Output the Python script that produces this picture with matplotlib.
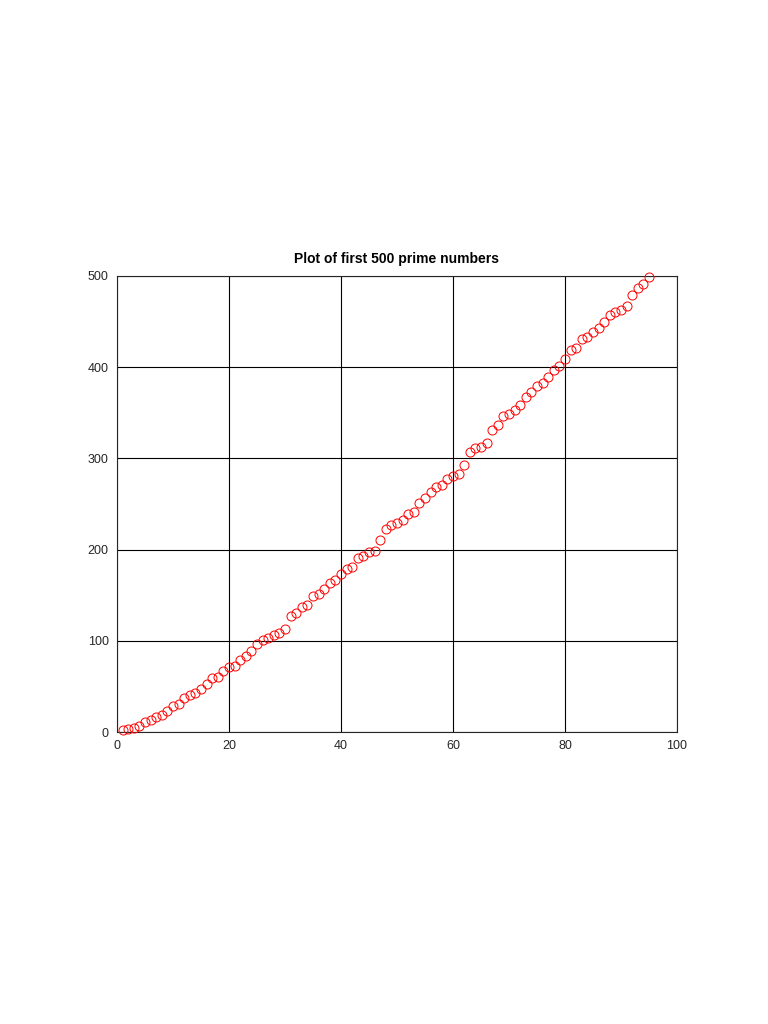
import matplotlib
matplotlib.use("Agg")
import matplotlib.pyplot as plt

primes = [2, 3, 5, 7, 11, 13, 17, 19, 23, 29, 31, 37, 41, 43, 47, 53, 59, 61, 67, 71,
          73, 79, 83, 89, 97, 101, 103, 107, 109, 113, 127, 131, 137, 139, 149, 151,
          157, 163, 167, 173, 179, 181, 191, 193, 197, 199, 211, 223, 227, 229, 233,
          239, 241, 251, 257, 263, 269, 271, 277, 281, 283, 293, 307, 311, 313, 317,
          331, 337, 347, 349, 353, 359, 367, 373, 379, 383, 389, 397, 401, 409, 419,
          421, 431, 433, 439, 443, 449, 457, 461, 463, 467, 479, 487, 491, 499]
index = list(range(1, len(primes) + 1))
x_ticks = [0, 20, 40, 60, 80, 100]
y_ticks = [0, 100, 200, 300, 400, 500]

plt.rcParams["font.family"] = ["Liberation Sans", "DejaVu Sans"]

fig = plt.figure(figsize=(7.68, 10.24), dpi=100)
ax = fig.add_axes([0.1523, 0.285, 0.7292, 0.4455])
ax.plot(index, primes, linestyle="none", marker="o", markersize=6.5,
        markerfacecolor="none", markeredgecolor="red", markeredgewidth=0.7,
        clip_on=False, zorder=3)
ax.set_xlim(0, 100)
ax.set_ylim(0, 500)
ax.set_xticks(x_ticks)
ax.set_yticks(y_ticks)
ax.grid(True, color="black", linewidth=0.8, linestyle="-")
ax.tick_params(length=0, labelsize=9, colors="#262626", pad=6)
for s in ax.spines.values():
    s.set_color("#262626")
    s.set_linewidth(0.8)
ax.set_title("Plot of first 500 prime numbers", fontsize=10, fontweight="bold", pad=9)

fig.savefig("out.png", dpi=100)
plt.close(fig)
